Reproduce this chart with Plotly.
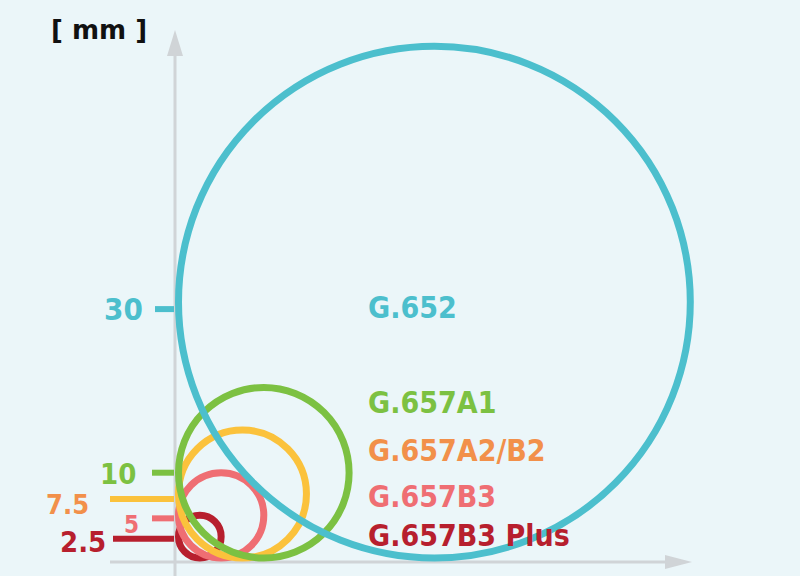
import plotly.graph_objects as go

W, H = 800, 576

# ---- data ----
series = ["G.652", "G.657A1", "G.657A2/B2", "G.657B3", "G.657B3 Plus"]
radii = [30, 10, 7.5, 5, 2.5]          # minimum bend radius, mm
tick_values = [30, 10, 7.5, 5, 2.5]
tick_labels = ["30", "10", "7.5", "5", "2.5"]
unit_label = "[ mm ]"

# ---- styles ----
BG = "#ebf6f9"
AXIS = "#d0d4d7"
circle_colors = ["#4cbfcd", "#7cc142", "#fbc23c", "#ef6e73", "#b71f2e"]
text_colors = ["#4cbfcd", "#7cc142", "#f2904a", "#ef6e73", "#b71f2e"]
tick_line_colors = ["#4cbfcd", "#7cc142", "#fbc23c", "#ef6e73", "#b71f2e"]
tick_font_sizes = [31, 29, 27, 24, 29]
tick_dash_start_px = [155, 152, 110, 152, 113]
tick_dash_end_px = 174
tick_dash_shift_px = [-7, 0, -5, -3, -2]
tick_text_right_px = [145, 138, 91, 141, 108]
tick_text_shift_px = [-7, -1, -10, -10, -5]
label_x_px = 366
label_y_px = [307, 402, 450, 496, 535]
FONT = "DejaVu Sans Condensed, Liberation Sans Narrow, DejaVu Sans, sans-serif"

# scale: px per mm, origin location in pixels
S = 8.53
X0_PX, Y0_PX = 178.5, 558.0
xr = [-X0_PX / S, (W - X0_PX) / S]
yr = [-(H - Y0_PX) / S, Y0_PX / S]


def px(x):
    return x / W


def py(y):
    return 1 - y / H


fig = go.Figure()
fig.add_trace(go.Scatter(
    x=[r for r in radii], y=[r for r in radii], mode="markers",
    marker=dict(opacity=0), text=series, hoverinfo="text", showlegend=False))

shapes = []
# axes (decoration)
shapes.append(dict(type="line", xref="paper", yref="paper", x0=px(175), x1=px(175),
                   y0=py(576), y1=py(52), line=dict(color=AXIS, width=3), layer="below"))
shapes.append(dict(type="path", xref="paper", yref="paper",
                   path=f"M{px(167)},{py(56)} L{px(175)},{py(30)} L{px(183)},{py(56)} Z",
                   fillcolor=AXIS, line=dict(width=0), layer="below"))
shapes.append(dict(type="line", xref="paper", yref="paper", x0=px(110), x1=px(668),
                   y0=py(562), y1=py(562), line=dict(color=AXIS, width=3), layer="below"))
shapes.append(dict(type="path", xref="paper", yref="paper",
                   path=f"M{px(665)},{py(555)} L{px(692)},{py(562)} L{px(665)},{py(569)} Z",
                   fillcolor=AXIS, line=dict(width=0), layer="below"))

# circles: smallest first so larger ones lie on top
for r, c in sorted(zip(radii, circle_colors), key=lambda t: t[0]):
    shapes.append(dict(type="circle", xref="x", yref="y", x0=0, y0=0, x1=2 * r, y1=2 * r,
                       line=dict(color=c, width=7)))

# tick dashes
for v, c, xs, sh in zip(tick_values, tick_line_colors, tick_dash_start_px, tick_dash_shift_px):
    shapes.append(dict(type="line", xref="paper", yref="y", ysizemode="pixel", yanchor=v,
                       x0=px(xs), x1=px(tick_dash_end_px), y0=sh, y1=sh,
                       line=dict(color=c, width=6)))

annotations = []
for v, t, c, fs, xr_px, sh in zip(tick_values, tick_labels, text_colors, tick_font_sizes,
                                   tick_text_right_px, tick_text_shift_px):
    annotations.append(dict(xref="paper", yref="y", x=px(xr_px), y=v, text=t, showarrow=False,
                            xanchor="right", yanchor="middle", yshift=sh,
                            font=dict(family=FONT, size=fs, color=c, weight="bold")))

for s, c, ly in zip(series, text_colors, label_y_px):
    annotations.append(dict(xref="paper", yref="paper", x=px(label_x_px), y=py(ly), text=s,
                            showarrow=False, xanchor="left", yanchor="middle",
                            font=dict(family=FONT, size=30, color=c, weight="bold")))

annotations.append(dict(xref="paper", yref="paper", x=px(99), y=py(30), text=unit_label,
                        showarrow=False, xanchor="center", yanchor="middle",
                        font=dict(family="DejaVu Sans, sans-serif", size=26, color="#111111",
                                  weight="bold")))

fig.update_layout(
    width=W, height=H, margin=dict(l=0, r=0, t=0, b=0),
    paper_bgcolor=BG, plot_bgcolor=BG,
    xaxis=dict(range=xr, visible=False, fixedrange=True),
    yaxis=dict(range=yr, visible=False, fixedrange=True),
    shapes=shapes, annotations=annotations, showlegend=False,
)

fig.write_html("out.html", config={"displayModeBar": False},
               post_script="document.body.style.margin='0';document.body.style.background='" + BG + "';")
